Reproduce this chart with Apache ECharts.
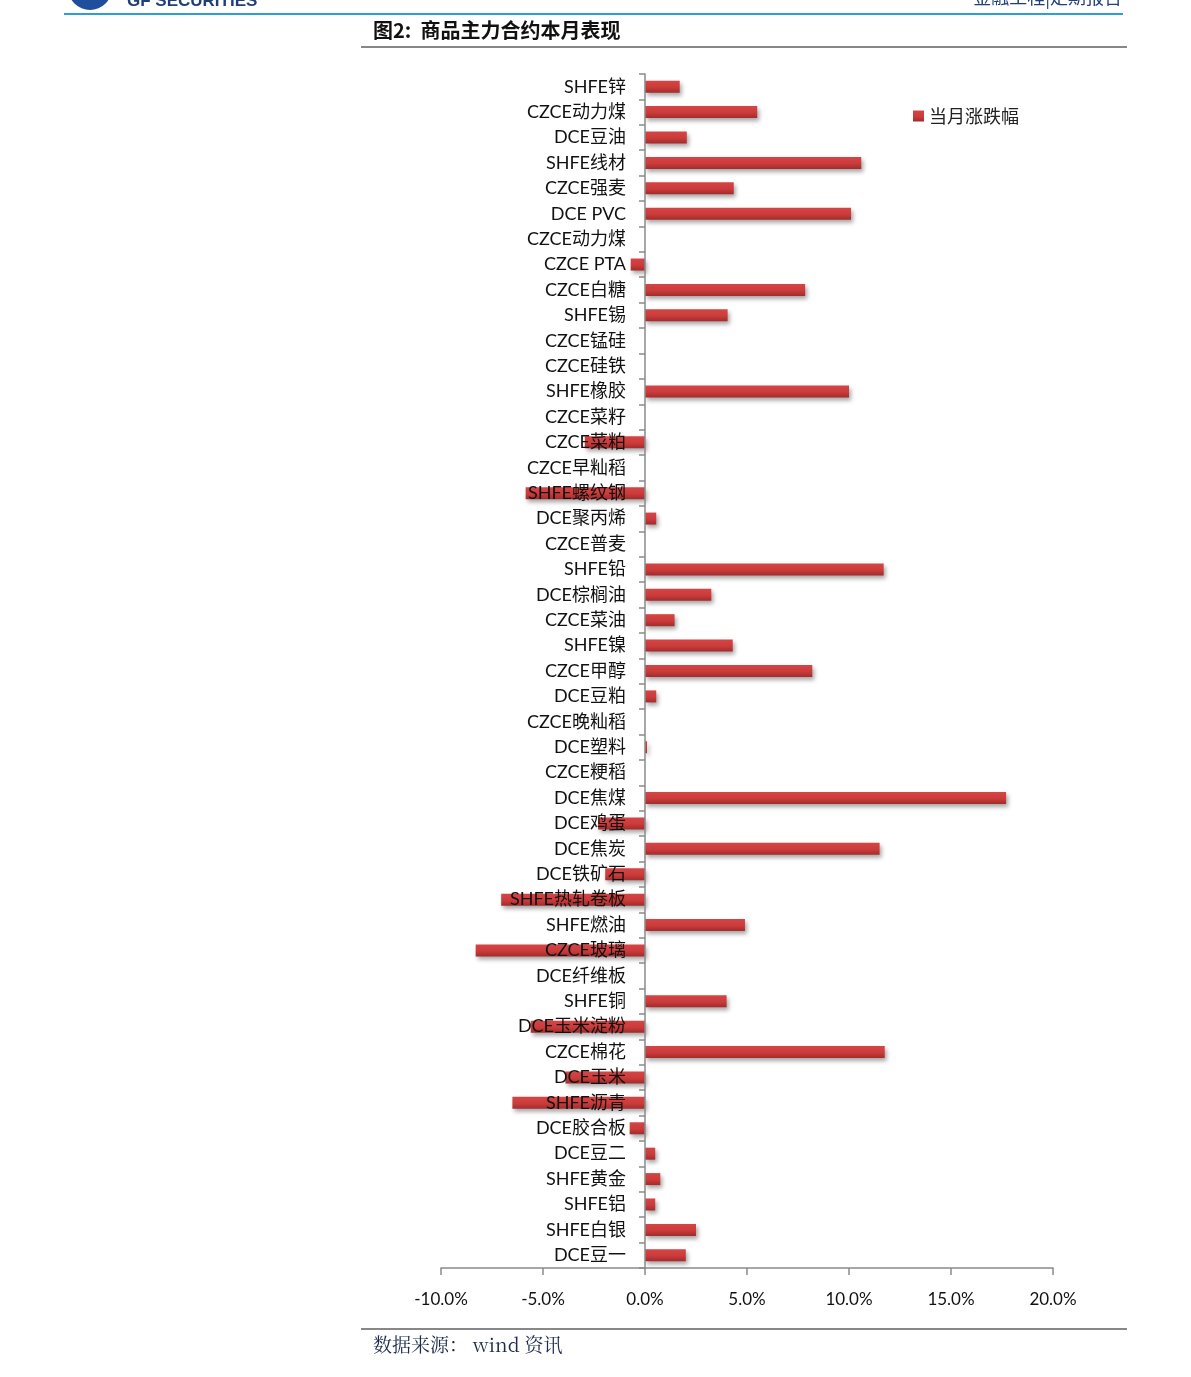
<!DOCTYPE html>
<html><head><meta charset="utf-8">
<script src="https://cdn.jsdelivr.net/npm/echarts@6/dist/echarts.min.js"></script>
<style>html,body{margin:0;padding:0;background:#fff}#c{width:1191px;height:1377px}</style>
</head><body><div id="c"></div>
<script>
const categories = ["SHFE锌","CZCE动力煤","DCE豆油","SHFE线材","CZCE强麦","DCE PVC","CZCE动力煤 ","CZCE PTA","CZCE白糖","SHFE锡","CZCE锰硅","CZCE硅铁","SHFE橡胶","CZCE菜籽","CZCE菜粕","CZCE早籼稻","SHFE螺纹钢","DCE聚丙烯","CZCE普麦","SHFE铅","DCE棕榈油","CZCE菜油","SHFE镍","CZCE甲醇","DCE豆粕","CZCE晚籼稻","DCE塑料","CZCE粳稻","DCE焦煤","DCE鸡蛋","DCE焦炭","DCE铁矿石","SHFE热轧卷板","SHFE燃油","CZCE玻璃","DCE纤维板","SHFE铜","DCE玉米淀粉","CZCE棉花","DCE玉米","SHFE沥青","DCE胶合板","DCE豆二","SHFE黄金","SHFE铝","SHFE白银","DCE豆一"];
const monthlyChange = [1.7,5.5,2.05,10.6,4.35,10.1,0,-0.7,7.85,4.05,0,0,10.0,0,-2.95,0,-5.85,0.55,0,11.7,3.25,1.45,4.3,8.2,0.55,0,0.1,0,17.7,-2.3,11.5,-1.95,-7.05,4.9,-8.3,0,4.0,-5.6,11.75,-3.9,-6.5,-0.75,0.5,0.75,0.5,2.5,2.0];
const xTicks = {min:-10, max:20, interval:5};
const seriesName = "当月涨跌幅";

const chart = echarts.init(document.getElementById('c'));
const latin = 'Lato, "Noto Sans CJK SC", sans-serif';
chart.setOption({
  animation:false,
  backgroundColor:'#fff',
  grid:{left:441, right:138, top:74, bottom:109, containLabel:false},
  legend:{data:[seriesName], left:908, top:102, icon:'rect', itemWidth:11, itemHeight:11, itemGap:6,
    textStyle:{fontSize:18, color:'#222', fontFamily:'"Noto Sans CJK SC", sans-serif'}},
  xAxis:{type:'value', min:xTicks.min, max:xTicks.max, interval:xTicks.interval,
    axisLine:{show:true, onZero:false, lineStyle:{color:'#8a8a8a', width:1.5}},
    axisTick:{show:true, length:7, lineStyle:{color:'#8a8a8a', width:1.5}},
    splitLine:{show:false},
    axisLabel:{margin:23, fontSize:17, color:'#111', fontFamily:latin, formatter:v=>v.toFixed(1)+'%'}},
  yAxis:{type:'category', inverse:true, data:categories, z:10,
    axisLine:{show:true, onZero:true, lineStyle:{color:'#8a8a8a', width:1.5}},
    axisTick:{show:true, length:6, inside:false, lineStyle:{color:'#8a8a8a', width:1.5}},
    axisLabel:{margin:-185, fontSize:18, color:'#111', fontFamily:latin, interval:0, formatter:v=>v.trim()}},
  series:[{name:seriesName, type:'bar', data:monthlyChange, barWidth:12, z:5,
    itemStyle:{
      color:new echarts.graphic.LinearGradient(0,0,0,1,[{offset:0,color:'#d64545'},{offset:0.55,color:'#cb3b3a'},{offset:1,color:'#a02c2c'}]),
      shadowColor:'rgba(0,0,0,0.35)', shadowBlur:4, shadowOffsetX:2, shadowOffsetY:3}}],
  graphic:[
    {type:'circle', shape:{cx:90, cy:-12, r:22}, style:{fill:'#1f4e9c'}},
    {type:'circle', shape:{cx:90, cy:-14, r:14}, style:{fill:'#ffffff'}},
    {type:'text', left:127, top:-7, style:{text:'GF SECURITIES', fontSize:17, fontWeight:'bold', fill:'#1f3f7a', fontFamily:'"Liberation Sans", sans-serif'}},
    {type:'text', right:69, top:-12, style:{text:'金融工程|定期报告', fontSize:18, fill:'#1f3f7a', fontFamily:'"Noto Sans CJK SC", sans-serif'}},
    {type:'line', shape:{x1:64, y1:14, x2:1123, y2:14}, style:{stroke:'#2a9fd8', lineWidth:2}},
    {type:'text', left:373, top:20, style:{text:'图2:  商品主力合约本月表现', fontSize:20, fontWeight:'bold', fill:'#111', fontFamily:'"Noto Sans CJK SC", sans-serif'}},
    {type:'line', shape:{x1:361, y1:47, x2:1127, y2:47}, style:{stroke:'#111', lineWidth:1}},
    {type:'line', shape:{x1:361, y1:1329, x2:1127, y2:1329}, style:{stroke:'#111', lineWidth:1}},
    {type:'text', left:373, top:1335, style:{text:'数据来源： wind 资讯', fontSize:19, fill:'#1c2a4a', fontFamily:'"Noto Serif CJK SC", "Noto Sans CJK SC", serif'}}
  ]
});
</script></body></html>
